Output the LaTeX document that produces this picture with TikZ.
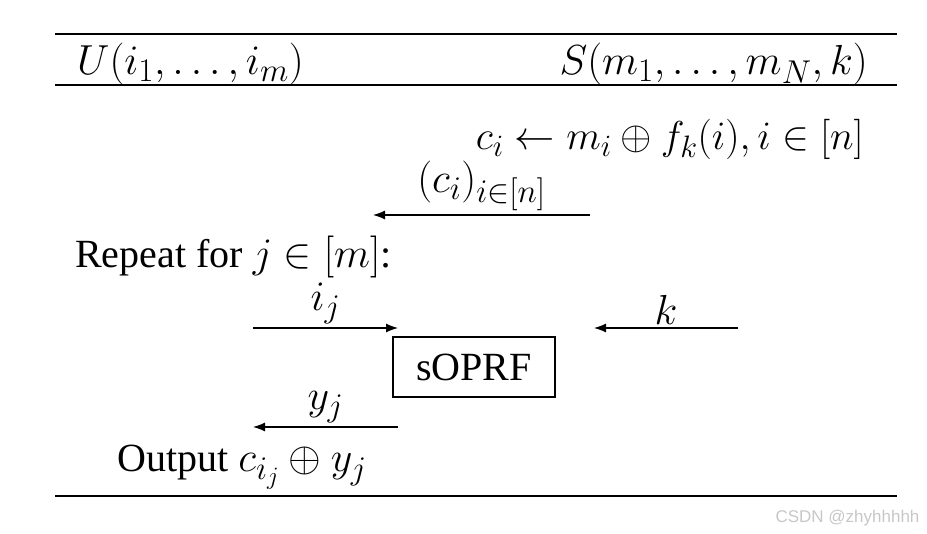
\RequirePackage{fix-cm}
\documentclass[tikz,border=0pt]{standalone}
\usepackage[no-math]{fontspec}
\setmainfont{Liberation Serif}
\newfontfamily\wmfont{Liberation Sans}
\DeclareMathSizes{40}{42}{33}{25}
\DeclareMathSizes{37}{40.3}{31}{24}
\usetikzlibrary{arrows.meta}
\begin{document}
\begin{tikzpicture}[x=1pt,y=-1pt,
    every node/.style={font=\fontsize{40}{48}\selectfont},
    txt/.style={inner sep=0pt},
    msg/.style={-{Latex[length=12pt,width=9pt]},line width=1.2pt},
    rule/.style={line width=1.5pt}]
  \useasboundingbox (0,0) rectangle (927,534);
  \draw
    (77,75) node[txt,anchor=base west] (user){$U(i_1,\ldots,i_m)$}
    (868,75) node[txt,anchor=base east] (server){$S(m_1,\ldots,m_N,k)$}
    (864,150) node[txt,anchor=base east,font=\fontsize{37}{44}\selectfont] (enc){$c_i\leftarrow m_i\oplus f_k(i), i\in[n]$}
    (75,268) node[txt,anchor=base west] (rep){Repeat for $j\in[m]$:}
    (474,367) node[draw,line width=1.2pt,minimum width=162pt,minimum height=60pt] (oprf){sOPRF}
    (117,472) node[txt,anchor=base west] (out){Output $c_{i_j}\oplus y_j$};
  \coordinate (cs) at (590,215);
  \coordinate (ce) at (373,215);
  \coordinate (is) at (253,328);
  \coordinate (ie) at (398,328);
  \coordinate (ks) at (738,328);
  \coordinate (ke) at (594,328);
  \coordinate (ys) at (398,427);
  \coordinate (ye) at (253,427);
  \begin{scope}[msg]
    \draw (cs) to node[above] (cl){$(c_i)_{i\in[n]}$} (ce);
    \draw (is) to node[above] (il){$i_j$} (ie);
    \draw (ks) to node[above] (kl){$k$} (ke);
    \draw (ys) to node[above] (yl){$y_j$} (ye);
  \end{scope}
  \begin{scope}[rule]
    \draw (55,34) -- (897,34);
    \draw (55,85) -- (897,85);
    \draw (55,496) -- (897,496);
  \end{scope}
  \node[anchor=east,font=\wmfont\fontsize{17}{20}\selectfont,text=black!22] (wm) at (923,518) {CSDN @zhyhhhhh};
\end{tikzpicture}
\end{document}
